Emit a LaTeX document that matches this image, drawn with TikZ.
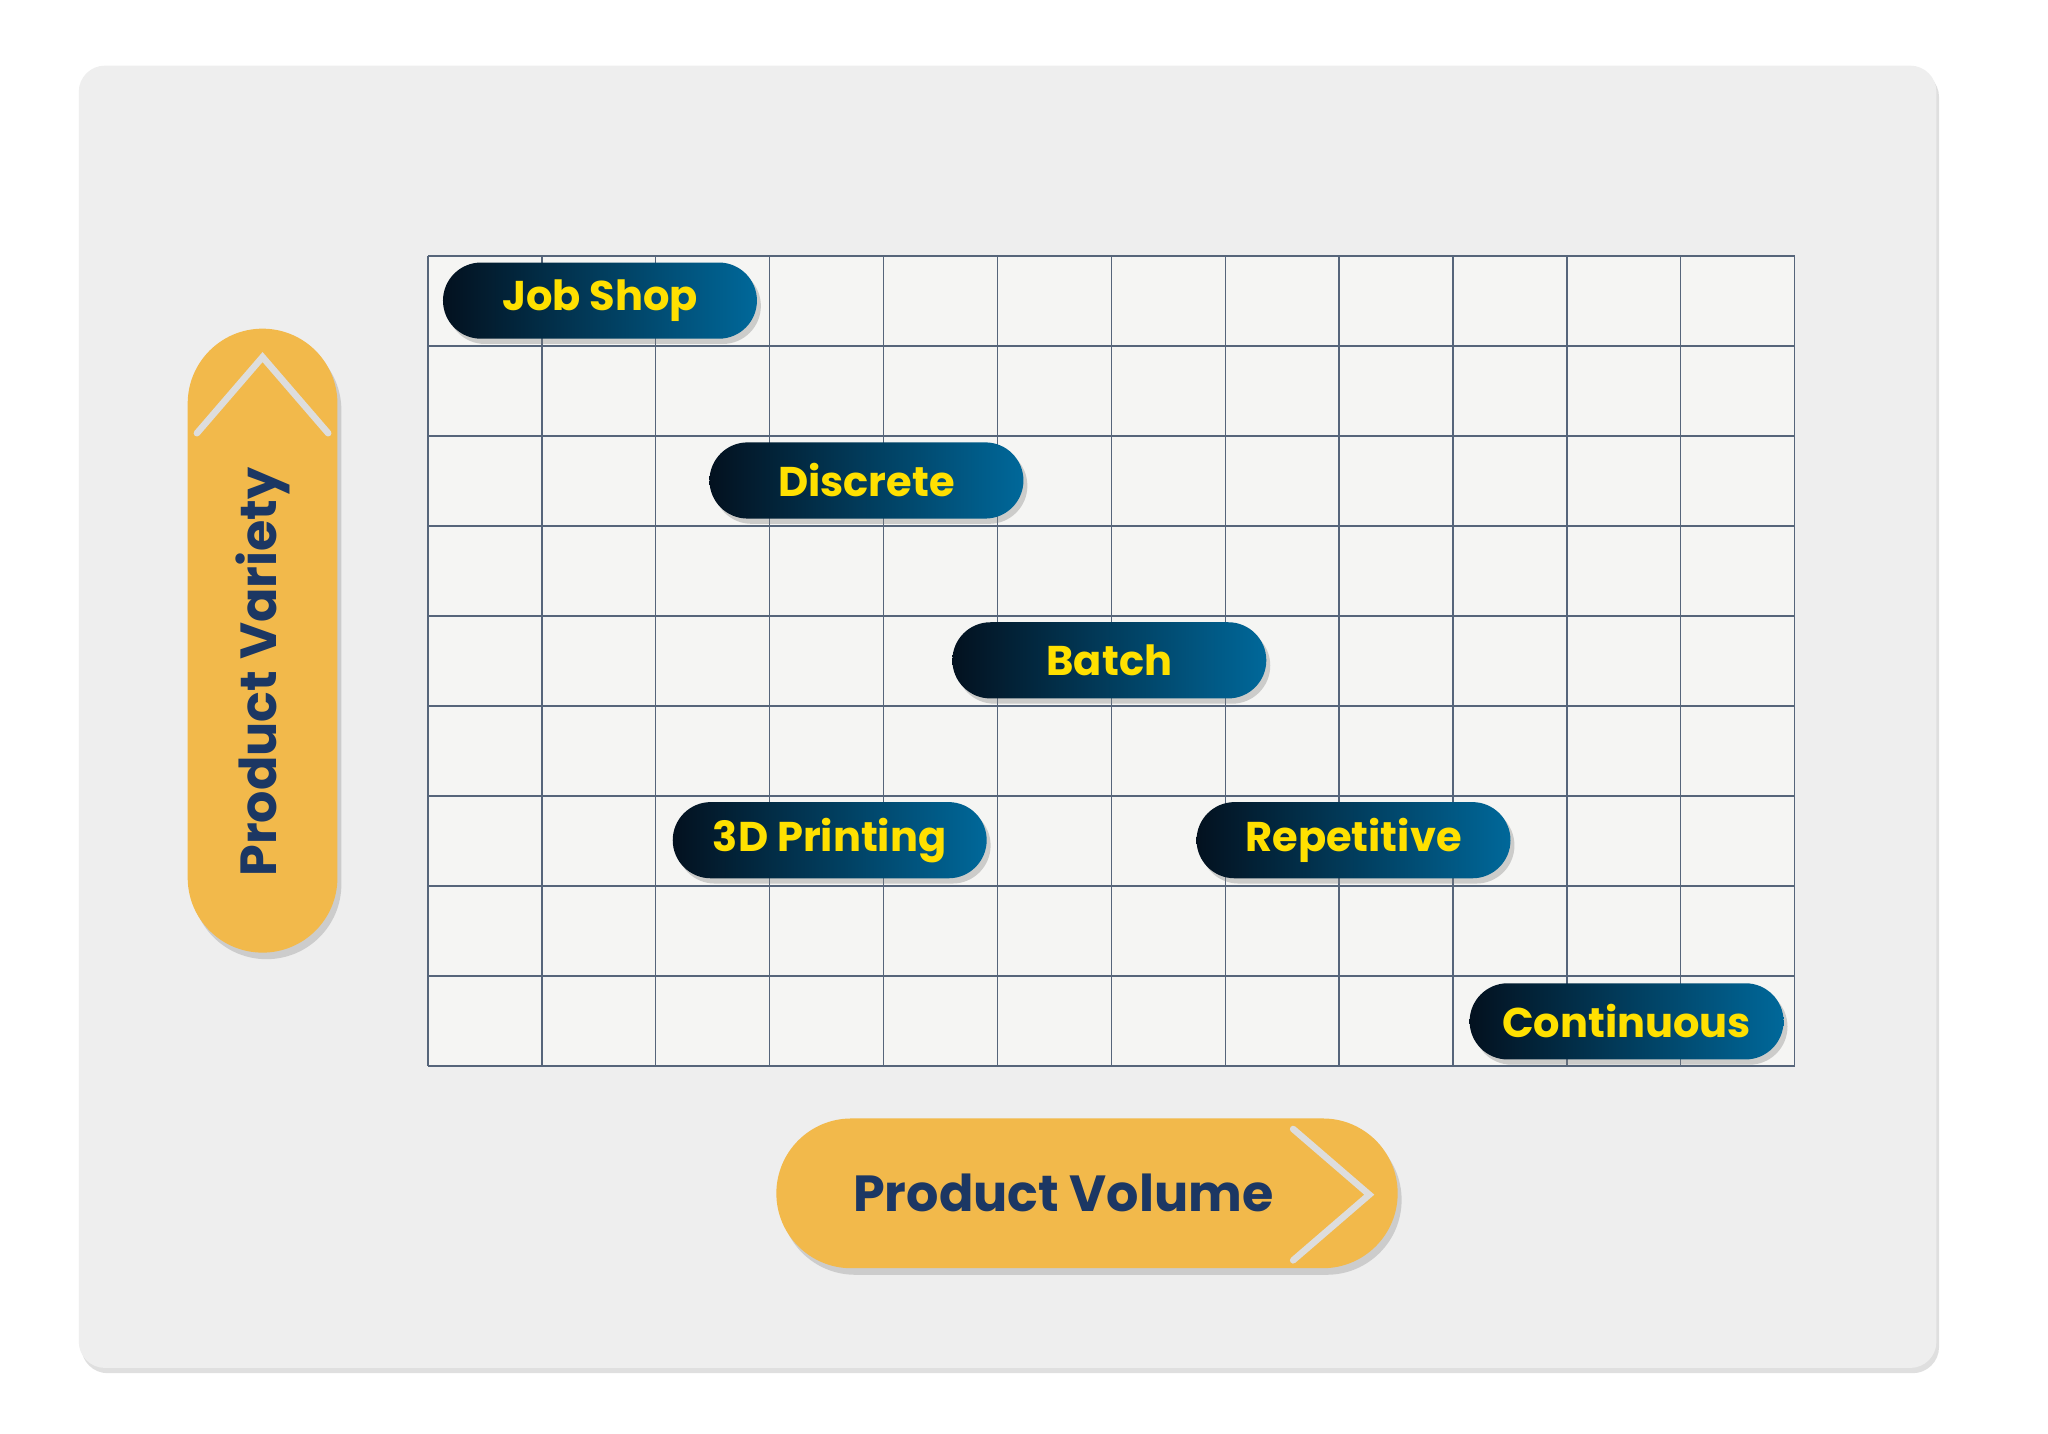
\documentclass[tikz,border=0pt]{standalone}
\usepackage{fontspec}
\setmainfont{Poppins}
\usetikzlibrary{shadows}

\definecolor{panelgray}{HTML}{EEEEEE}
\definecolor{gridfill}{HTML}{F5F5F3}
\definecolor{gridline}{HTML}{56657A}
\definecolor{pilldark}{HTML}{03111F}
\definecolor{pilllight}{HTML}{00689A}
\definecolor{pilltext}{HTML}{FFE000}
\definecolor{axisorange}{HTML}{F2B94B}
\definecolor{axisnavy}{HTML}{1C3763}

\tikzset{
  pill/.style={rectangle, rounded corners=0.29cm, minimum width=2.39cm, minimum height=0.58cm,
    left color=pilldark, right color=pilllight, text=pilltext,
    font=\fontsize{9}{11}\selectfont\bfseries,
    drop shadow={shadow xshift=0.03cm, shadow yshift=-0.04cm, opacity=0.35}},
  axispill/.style={rectangle, rounded corners=0.57cm, fill=axisorange, text=axisnavy,
    font=\fontsize{11}{13}\selectfont\bfseries,
    drop shadow={shadow xshift=0.03cm, shadow yshift=-0.05cm, opacity=0.3}},
  chevron/.style={draw=panelgray!85!gray, line width=0.05cm, line cap=round}
}

\begin{document}
\begin{tikzpicture}[x=0.01cm, y=-0.01cm]
\useasboundingbox (0,0) rectangle (1560,1092);
% panel
\fill[white] (0,0) rectangle (1560,1092);
\fill[panelgray, rounded corners=0.2cm, drop shadow={shadow xshift=0.02cm, shadow yshift=-0.04cm, opacity=0.25}]
  (60,50) rectangle (1475,1042);
% grid
\fill[gridfill] (326,195) rectangle (1367,812);
\foreach \i in {0,...,12}
  \draw[gridline, line width=0.3pt] ({326+\i*86.75},195) -- ({326+\i*86.75},812);
\foreach \j in {0,...,9}
  \draw[gridline, line width=0.3pt] (326,{195+\j*68.56}) -- (1367,{195+\j*68.56});

% process types
\node[pill] (jobshop) at (457,229) {Job Shop};
\node[pill] (discrete) at (660,366) {Discrete};
\node[pill] (batch) at (845,503) {Batch};
\node[pill] (printing) at (632,640) {3D Printing};
\node[pill] (repetitive) at (1031,640) {Repetitive};
\node[pill] (continuous) at (1239,778) {Continuous};

% axes
\node[axispill, minimum width=4.75cm, minimum height=1.14cm, rotate=90] (variety) at (200,488) {};
\node[rotate=90, text=axisnavy, font=\fontsize{11}{13}\selectfont\bfseries] (varietylabel) at (200,512) {Product Variety};
\draw[chevron] (150,330) -- (200,272) -- (250,330);

\node[axispill, minimum width=4.73cm, minimum height=1.14cm] (volume) at (828,909) {};
\node[text=axisnavy, font=\fontsize{11}{13}\selectfont\bfseries] (volumelabel) at (810,909) {Product Volume};
\draw[chevron] (985,860) -- (1043,910) -- (985,960);
\end{tikzpicture}
\end{document}
